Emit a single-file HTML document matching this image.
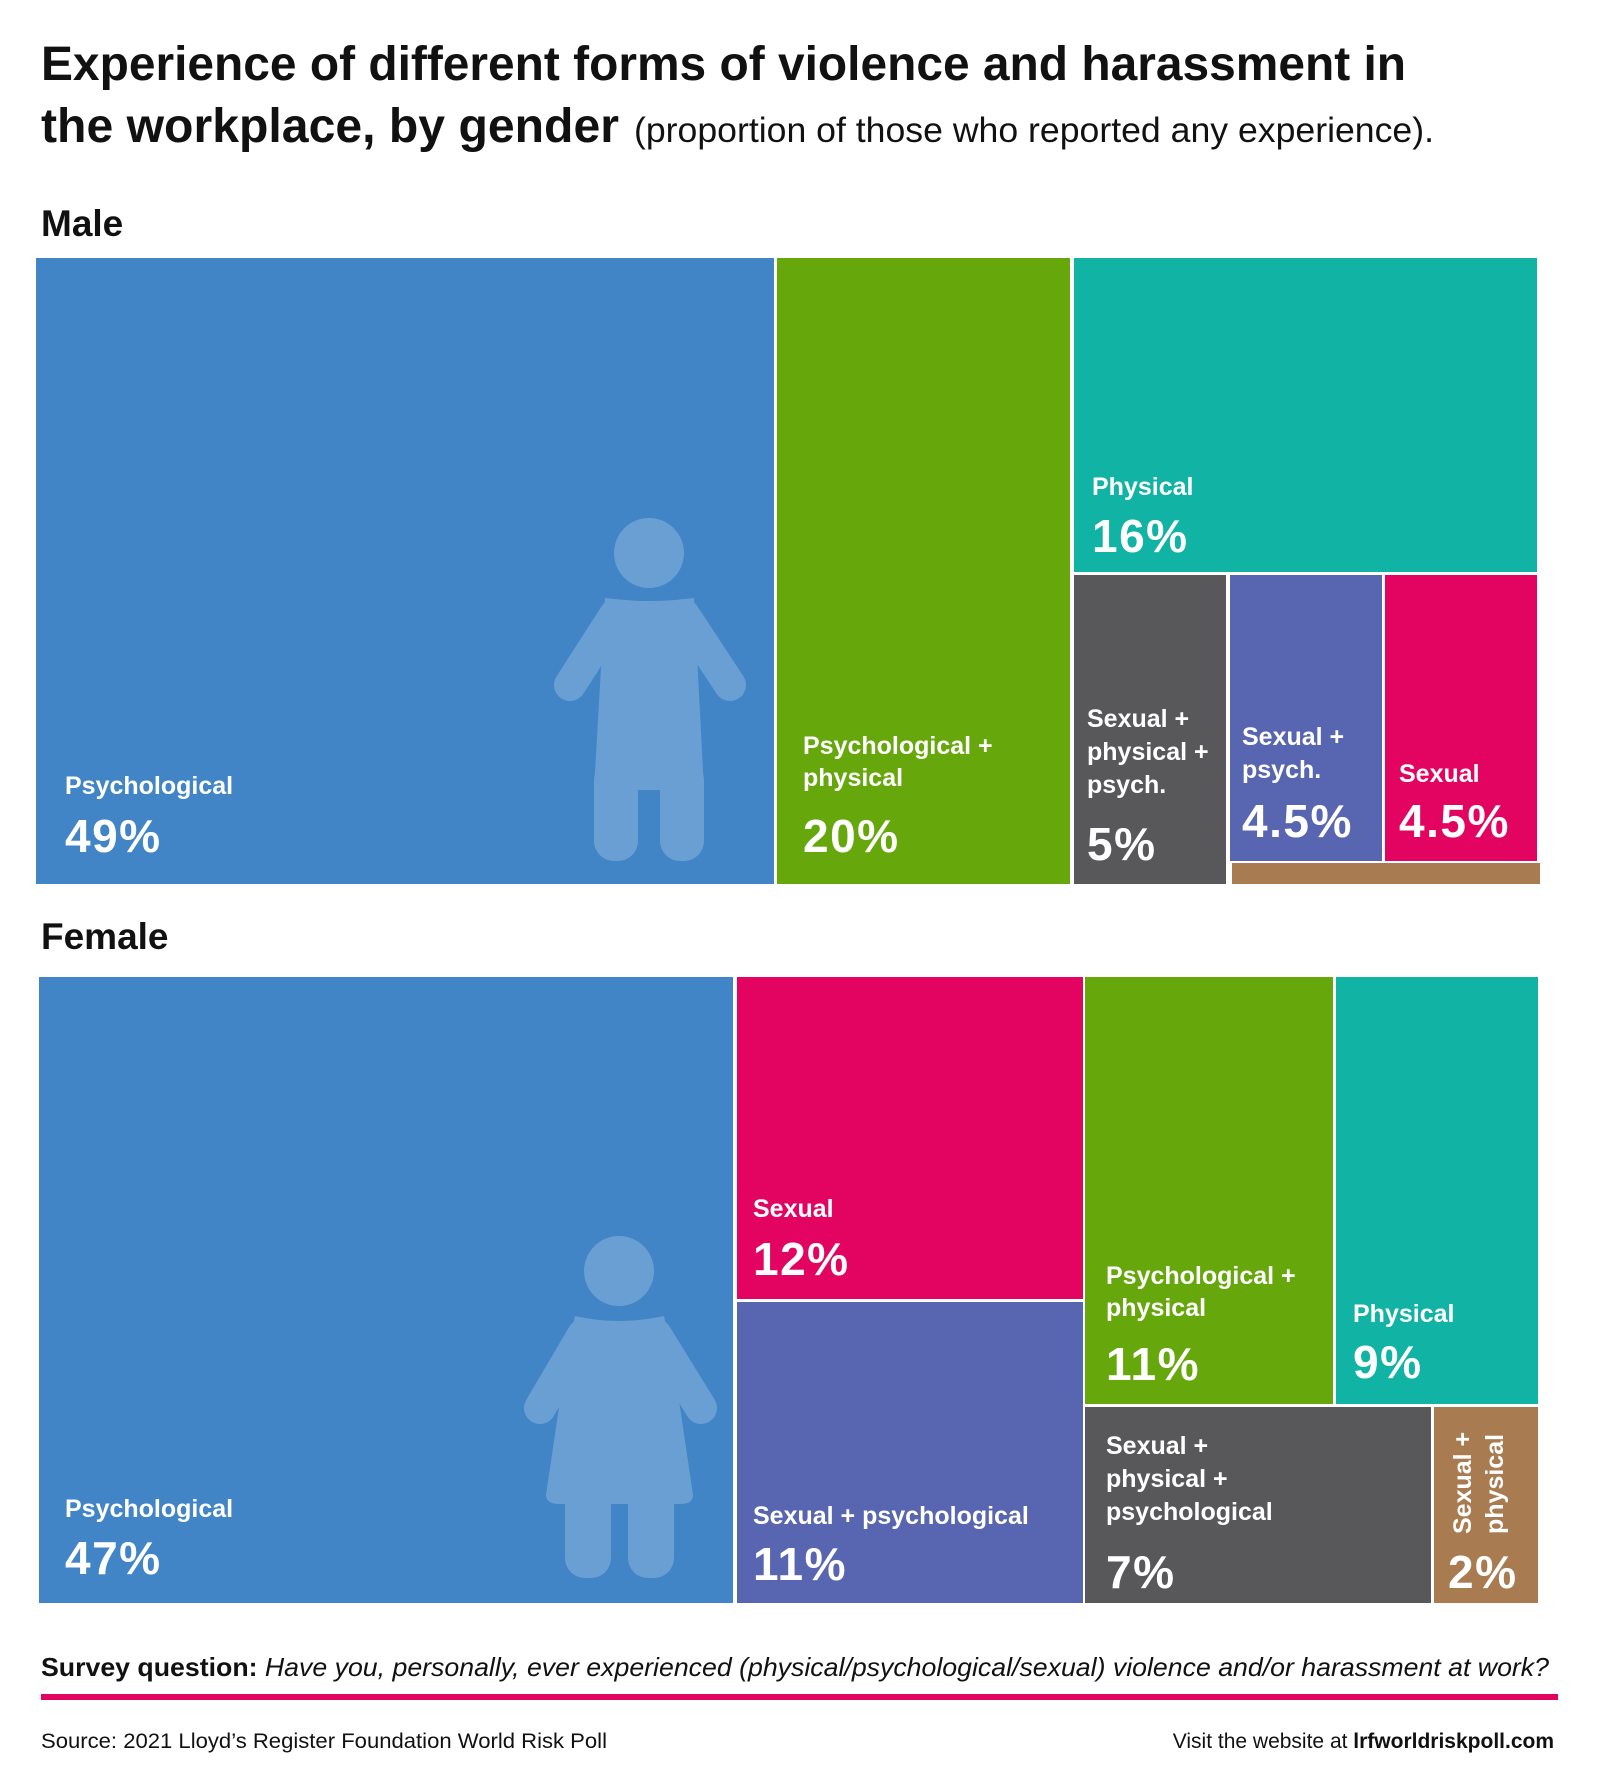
<!DOCTYPE html>
<html><head><meta charset="utf-8"><style>
html,body{margin:0;padding:0;background:#fff}
svg{display:block}
text{font-family:"Liberation Sans",sans-serif;fill:#fff;font-weight:bold}
.l{font-size:25px}
.p{font-size:46px;letter-spacing:1.5px}
.d{fill:#111}
</style></head><body>
<svg width="1601" height="1784" viewBox="0 0 1601 1784">
<rect width="1601" height="1784" fill="#fff"/>
<text class="d" x="41" y="80" font-size="48" textLength="1365" lengthAdjust="spacingAndGlyphs">Experience of different forms of violence and harassment in</text>
<text class="d" x="41" y="142" font-size="48" textLength="578" lengthAdjust="spacingAndGlyphs">the workplace, by gender</text>
<text class="d" x="634" y="142" font-size="35" style="font-weight:normal" textLength="800" lengthAdjust="spacingAndGlyphs">(proportion of those who reported any experience).</text>
<text class="d" x="41" y="236" font-size="37">Male</text>
<text class="d" x="41" y="949" font-size="37">Female</text>

<!-- Male -->
<rect x="36" y="258" width="738" height="626" fill="#4185c7"/>
<rect x="777" y="258" width="293" height="626" fill="#66a80b"/>
<rect x="1074" y="258" width="463" height="314" fill="#10b3a4"/>
<rect x="1074" y="575" width="152" height="309" fill="#58585a"/>
<rect x="1230" y="575" width="152" height="286" fill="#5865b0"/>
<rect x="1385" y="575" width="152" height="286" fill="#e30461"/>
<rect x="1232" y="863" width="308" height="21" fill="#a87c50"/>
<g fill="#6a9fd4" stroke="#6a9fd4">
<circle cx="649" cy="553" r="35" stroke="none"/>
<line x1="615" y1="615" x2="570" y2="685" stroke-width="32" stroke-linecap="round"/>
<line x1="684" y1="615" x2="730" y2="685" stroke-width="32" stroke-linecap="round"/>
<path d="M605 598 Q649 604 694 598 L704 790 L594 790 Z" stroke="none"/>
<rect x="594" y="760" width="44" height="101" rx="20" stroke="none"/>
<rect x="660" y="760" width="44" height="101" rx="20" stroke="none"/>
</g>
<text class="l" x="65" y="794">Psychological</text>
<text class="p" x="65" y="852">49%</text>
<text class="l" x="803" y="754">Psychological +</text>
<text class="l" x="803" y="786">physical</text>
<text class="p" x="803" y="852">20%</text>
<text class="l" x="1092" y="495">Physical</text>
<text class="p" x="1092" y="552">16%</text>
<text class="l" x="1087" y="727">Sexual +</text>
<text class="l" x="1087" y="760">physical +</text>
<text class="l" x="1087" y="793">psych.</text>
<text class="p" x="1087" y="860">5%</text>
<text class="l" x="1242" y="745">Sexual +</text>
<text class="l" x="1242" y="778">psych.</text>
<text class="p" x="1242" y="837">4.5%</text>
<text class="l" x="1399" y="782">Sexual</text>
<text class="p" x="1399" y="837">4.5%</text>

<!-- Female -->
<rect x="39" y="977" width="694" height="626" fill="#4185c7"/>
<rect x="737" y="977" width="346" height="322" fill="#e30461"/>
<rect x="737" y="1302" width="346" height="301" fill="#5865b0"/>
<rect x="1085" y="977" width="248" height="427" fill="#66a80b"/>
<rect x="1336" y="977" width="202" height="427" fill="#10b3a4"/>
<rect x="1085" y="1407" width="346" height="196" fill="#58585a"/>
<rect x="1434" y="1407" width="104" height="196" fill="#a87c50"/>
<g fill="#6a9fd4" stroke="#6a9fd4">
<circle cx="619" cy="1271" r="35" stroke="none"/>
<line x1="583" y1="1335" x2="540" y2="1408" stroke-width="32" stroke-linecap="round"/>
<line x1="656" y1="1335" x2="701" y2="1408" stroke-width="32" stroke-linecap="round"/>
<path d="M575 1316 Q619 1326 664 1316 L673 1360 L693 1495 Q693 1504 680 1504 L560 1504 Q546 1504 546 1495 L566 1360 Z" stroke="none"/>
<rect x="565" y="1480" width="46" height="98" rx="20" stroke="none"/>
<rect x="628" y="1480" width="46" height="98" rx="20" stroke="none"/>
</g>
<text class="l" x="65" y="1517">Psychological</text>
<text class="p" x="65" y="1574">47%</text>
<text class="l" x="753" y="1217">Sexual</text>
<text class="p" x="753" y="1275">12%</text>
<text class="l" x="753" y="1524">Sexual + psychological</text>
<text class="p" x="753" y="1580">11%</text>
<text class="l" x="1106" y="1284">Psychological +</text>
<text class="l" x="1106" y="1316">physical</text>
<text class="p" x="1106" y="1380">11%</text>
<text class="l" x="1353" y="1322">Physical</text>
<text class="p" x="1353" y="1378">9%</text>
<text class="l" x="1106" y="1454">Sexual +</text>
<text class="l" x="1106" y="1487">physical +</text>
<text class="l" x="1106" y="1520">psychological</text>
<text class="p" x="1106" y="1588">7%</text>
<text class="l" transform="translate(1471,1534) rotate(-90)">Sexual +</text>
<text class="l" transform="translate(1503,1534) rotate(-90)">physical</text>
<text class="p" x="1448" y="1588">2%</text>

<!-- Footer -->
<text class="d" x="41" y="1676" font-size="26" textLength="1508" lengthAdjust="spacingAndGlyphs"><tspan font-weight="bold">Survey question: </tspan><tspan style="font-weight:normal;font-style:italic">Have you, personally, ever experienced (physical/psychological/sexual) violence and/or harassment at work?</tspan></text>
<rect x="41" y="1694" width="1517" height="6" fill="#e30461"/>
<text class="d" x="41" y="1748" font-size="21" style="font-weight:normal" textLength="566" lengthAdjust="spacingAndGlyphs">Source: 2021 Lloyd’s Register Foundation World Risk Poll</text>
<text class="d" x="1554" y="1748" font-size="21" text-anchor="end"><tspan style="font-weight:normal">Visit the website at </tspan><tspan font-weight="bold">lrfworldriskpoll.com</tspan></text>
</svg>
</body></html>
